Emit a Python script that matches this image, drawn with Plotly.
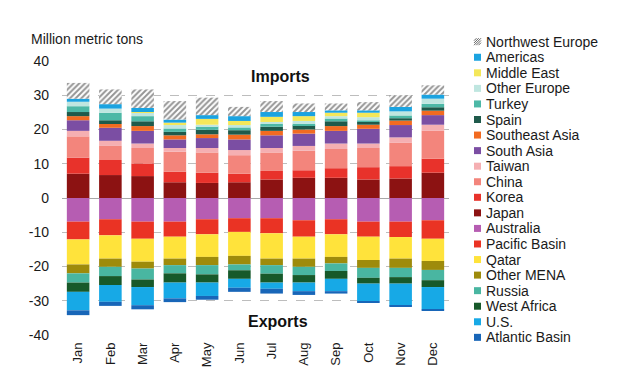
import plotly.graph_objects as go

# ---------------- data ----------------
months = ["Jan", "Feb", "Mar", "Apr", "May", "Jun", "Jul", "Aug", "Sep", "Oct", "Nov", "Dec"]

# Imports (million metric tons), stacked upward from 0
japan          = [7.1, 6.7, 6.4, 4.6, 4.4, 4.6, 5.4, 5.9, 5.9, 5.4, 5.7, 7.4]
korea          = [4.7, 4.4, 3.7, 3.1, 3.0, 2.5, 2.5, 2.2, 2.8, 3.6, 3.6, 4.1]
china          = [6.2, 4.1, 4.5, 5.8, 5.9, 5.4, 5.4, 5.7, 5.6, 5.6, 6.9, 8.2]
taiwan         = [1.6, 1.5, 1.3, 1.1, 1.3, 1.5, 1.3, 1.4, 1.6, 1.3, 1.5, 1.7]
south_asia     = [3.1, 3.8, 3.7, 2.5, 2.9, 3.1, 3.7, 3.6, 3.7, 4.3, 3.6, 2.8]
southeast_asia = [1.2, 1.1, 1.4, 1.2, 1.1, 1.4, 1.3, 1.2, 1.4, 1.2, 1.3, 1.3]
spain          = [1.2, 1.1, 1.4, 1.0, 1.3, 1.3, 1.2, 1.2, 1.4, 0.8, 0.7, 1.0]
turkey         = [1.7, 2.2, 1.5, 1.0, 1.0, 0.8, 0.8, 0.5, 0.8, 0.4, 0.8, 1.0]
other_europe   = [1.3, 1.2, 1.0, 1.0, 0.5, 0.7, 0.6, 0.8, 0.7, 1.0, 1.2, 1.5]
middle_east    = [0.0, 0.0, 0.2, 0.7, 1.7, 1.2, 1.5, 1.4, 1.0, 1.3, 0.0, 0.0]
americas       = [0.9, 1.3, 1.2, 0.9, 1.1, 1.4, 1.4, 1.2, 0.7, 0.7, 1.3, 1.2]
northwest_eur  = [4.6, 4.3, 5.4, 5.4, 5.1, 2.7, 3.2, 2.5, 2.0, 2.4, 3.4, 2.7]

# Exports (million metric tons), stacked downward from 0
australia      = [-6.9, -6.2, -6.9, -6.9, -6.2, -5.9, -5.9, -6.5, -6.2, -6.9, -6.9, -6.5]
pacific_basin  = [-5.2, -4.7, -5.0, -4.4, -4.4, -4.0, -4.4, -4.8, -4.4, -4.4, -4.5, -5.4]
qatar          = [-7.3, -6.8, -6.7, -6.4, -6.6, -7.0, -7.4, -6.4, -6.6, -6.8, -6.3, -6.5]
other_mena     = [-2.6, -2.4, -2.0, -1.9, -2.4, -2.5, -1.9, -2.4, -1.9, -2.3, -2.7, -2.6]
russia         = [-2.7, -2.7, -3.2, -2.4, -2.7, -1.7, -2.5, -2.4, -2.2, -2.9, -2.7, -3.0]
west_africa    = [-2.7, -2.6, -2.2, -2.7, -2.4, -2.5, -2.6, -2.2, -2.3, -1.7, -1.9, -2.0]
us             = [-5.4, -4.9, -5.3, -4.6, -3.9, -2.6, -1.8, -2.5, -3.6, -5.1, -6.4, -6.5]
atlantic_basin = [-1.4, -1.2, -1.2, -1.1, -1.1, -1.2, -1.4, -1.1, -0.7, -0.4, -0.4, -0.5]

y_tickvals = [-40, -30, -20, -10, 0, 10, 20, 30, 40]
y_ticktext = ["-40", "-30", "-20", "-10", "0", "10", "20", "30", "40"]

# stacking order (closest to zero first)
series = [
    ("Japan", japan, "#8C1212"),
    ("Korea", korea, "#E8322B"),
    ("China", china, "#F3857C"),
    ("Taiwan", taiwan, "#F5AFB2"),
    ("South Asia", south_asia, "#7B4EA3"),
    ("Southeast Asia", southeast_asia, "#F26B21"),
    ("Spain", spain, "#1F5A4B"),
    ("Turkey", turkey, "#4DB8A6"),
    ("Other Europe", other_europe, "#BFE6E0"),
    ("Middle East", middle_east, "#F4E75A"),
    ("Americas", americas, "#1BA3E0"),
    ("Northwest Europe", northwest_eur, "hatch"),
    ("Australia", australia, "#B65DB2"),
    ("Pacific Basin", pacific_basin, "#EA3324"),
    ("Qatar", qatar, "#FFE33B"),
    ("Other MENA", other_mena, "#9E8B0B"),
    ("Russia", russia, "#49B6A1"),
    ("West Africa", west_africa, "#17592A"),
    ("U.S.", us, "#17A9E6"),
    ("Atlantic Basin", atlantic_basin, "#1866B8"),
]

legend_order = ["Northwest Europe", "Americas", "Middle East", "Other Europe", "Turkey", "Spain",
                "Southeast Asia", "South Asia", "Taiwan", "China", "Korea", "Japan",
                "Australia", "Pacific Basin", "Qatar", "Other MENA", "Russia", "West Africa",
                "U.S.", "Atlantic Basin"]

FONT = "Liberation Sans, Arial, sans-serif"
HATCH_FG = "#2b2b2b"

fig = go.Figure()
for name, vals, color in series:
    if color == "hatch":
        marker = dict(color="white", line=dict(width=0),
                      pattern=dict(shape="/", fgcolor=HATCH_FG, bgcolor="white", size=4, solidity=0.5))
    else:
        marker = dict(color=color, line=dict(width=0))
    fig.add_trace(go.Bar(x=months, y=vals, name=name, marker=marker, showlegend=False))

# ---------------- layout ----------------
# the page body adds an 8 px offset; keep the figure inside the window.
OFF = 8
WIN_W, WIN_H = 640, 377
P_L, P_R, P_T, P_B = 62, 449, 61, 335          # plot area in window pixels
W, H = WIN_W - OFF, WIN_H - 2 * OFF
ML, MT = P_L - OFF, P_T - OFF
MR, MB = (OFF + W) - P_R, (OFF + H) - P_B
PW, PH = P_R - P_L, P_B - P_T


def px(x):
    return (x - P_L) / PW


def py(y):
    return (P_B - y) / PH


shapes = []
annotations = []

# custom compact legend
colors = {n: c for n, _, c in series}
LEG_Y0, LEG_DY = 41.7, 15.56
SW_X0, SW_S = 474, 7
for i, name in enumerate(legend_order):
    yc = LEG_Y0 + i * LEG_DY
    c = colors[name]
    x0, x1 = SW_X0, SW_X0 + SW_S
    y0, y1 = yc - SW_S / 2, yc + SW_S / 2
    if c == "hatch":
        shapes.append(dict(type="rect", xref="paper", yref="paper", x0=px(x0), x1=px(x1),
                           y0=py(y1), y1=py(y0), fillcolor="white", line=dict(width=0)))
        s = SW_S / 2
        cx = (x0 + x1) / 2
        for d in [-4.5, -2.25, 0, 2.25, 4.5]:
            ua, ub = max(-s, d - s), min(s, d + s)
            if ub - ua < 0.5:
                continue
            shapes.append(dict(type="line", xref="paper", yref="paper",
                               x0=px(cx + ua), y0=py(yc + (d - ua)),
                               x1=px(cx + ub), y1=py(yc + (d - ub)),
                               line=dict(color="#666666", width=1)))
    else:
        shapes.append(dict(type="rect", xref="paper", yref="paper", x0=px(x0), x1=px(x1),
                           y0=py(y1), y1=py(y0), fillcolor=c, line=dict(width=0)))
    annotations.append(dict(text=name, xref="paper", yref="paper", x=px(484), y=py(yc),
                            xanchor="left", yanchor="middle", showarrow=False,
                            font=dict(family=FONT, size=14, color="#1a1a1a")))

annotations += [
    dict(text="Million metric tons", xref="paper", yref="paper", x=px(29), y=py(39),
         xanchor="left", yanchor="middle", showarrow=False,
         font=dict(family=FONT, size=14, color="#1a1a1a")),
    dict(text="<b>Imports</b>", xref="paper", yref="paper", x=px(280), y=py(76),
         xanchor="center", yanchor="middle", showarrow=False,
         font=dict(family=FONT, size=16, color="#111111")),
    dict(text="<b>Exports</b>", xref="paper", yref="paper", x=px(277.5), y=py(321),
         xanchor="center", yanchor="middle", showarrow=False,
         font=dict(family=FONT, size=16, color="#111111")),
]

fig.update_layout(
    width=W, height=H,
    margin=dict(l=ML, r=MR, t=MT, b=MB, pad=0, autoexpand=False),
    barmode="relative", bargap=0.30,
    plot_bgcolor="white", paper_bgcolor="white",
    font=dict(family=FONT, size=14, color="#1a1a1a"),
    showlegend=False,
    shapes=shapes, annotations=annotations,
    xaxis=dict(type="category", tickangle=-90, ticks="", showgrid=False, showline=False,
               automargin=False,
               tickfont=dict(family=FONT, size=13, color="#1a1a1a"), ticklabelstandoff=4),
    yaxis=dict(range=[-40, 40], tickvals=y_tickvals, ticktext=y_ticktext, ticks="",
               automargin=False,
               showgrid=True, gridcolor="#BDBDBD", griddash="dash", gridwidth=1,
               zeroline=True, zerolinecolor="#A8A8A8", zerolinewidth=1, showline=False,
               tickfont=dict(family=FONT, size=14, color="#1a1a1a"), ticklabelstandoff=12),
)

fig.write_html("out.html")
